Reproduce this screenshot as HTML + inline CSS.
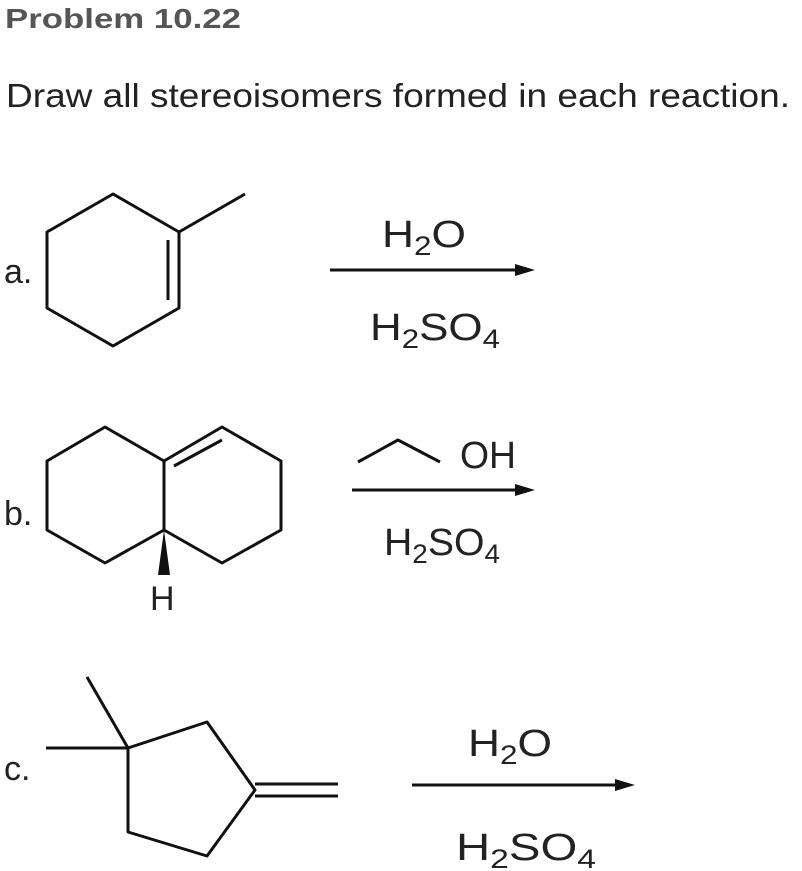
<!DOCTYPE html>
<html><head><style>
body{margin:0;background:#fff;}
svg{display:block;font-family:"Liberation Sans",sans-serif;}
</style></head><body>
<svg width="802" height="871" viewBox="0 0 802 871">
<text x="5" y="28" font-size="28" font-weight="bold" fill="#555" textLength="236" lengthAdjust="spacingAndGlyphs">Problem 10.22</text>
<text x="6" y="107" font-size="33" fill="#222" textLength="784" lengthAdjust="spacingAndGlyphs">Draw all stereoisomers formed in each reaction.</text>
<g stroke="#111" stroke-width="3" fill="none" stroke-linejoin="round">
<polygon points="113,194 179,232 179,308 113,346 47,308 47,232"/>
<line x1="179" y1="232" x2="245" y2="194"/>
<line x1="168" y1="240" x2="168" y2="300"/>
<polygon points="105,427 164,461 164,530 105,563 47,530 47,461"/>
<polyline points="164,461 222,427 281,461 281,530 222,563 164,530"/>
<line x1="174" y1="466" x2="222" y2="440"/>
<polygon points="128,748 207,722 255,790 207,856 128,832"/>
<line x1="128" y1="748" x2="87" y2="677"/>
<line x1="128" y1="748" x2="46" y2="748"/>
<line x1="255" y1="784" x2="338" y2="784"/>
<line x1="255" y1="796" x2="338" y2="796"/>
<polyline points="358,462 398,440 440,462"/>
<line x1="330" y1="270" x2="522" y2="270"/>
<line x1="352" y1="490" x2="522" y2="490"/>
<line x1="412" y1="785" x2="622" y2="785"/>
</g>
<polygon points="164,530 158,575 170,575" fill="#111"/>
<polygon points="535,270 515,264 515,276" fill="#111"/>
<polygon points="535,490 515,484 515,496" fill="#111"/>
<polygon points="635,785 615,779 615,791" fill="#111"/>
<g font-size="38" fill="#222">
<text x="4" y="283" font-size="34">a.</text>
<text x="4" y="525" font-size="34">b.</text>
<text x="4" y="780" font-size="34">c.</text>
<text x="150" y="610" font-size="34">H</text>
<text x="382" y="247" textLength="84" lengthAdjust="spacingAndGlyphs">H<tspan font-size="27" dy="8">2</tspan><tspan dy="-8">O</tspan></text>
<text x="370" y="340" textLength="130" lengthAdjust="spacingAndGlyphs">H<tspan font-size="27" dy="8">2</tspan><tspan dy="-8">SO</tspan><tspan font-size="27" dy="8">4</tspan></text>
<text x="460" y="468" textLength="56" lengthAdjust="spacingAndGlyphs">OH</text>
<text x="384" y="555" textLength="116" lengthAdjust="spacingAndGlyphs">H<tspan font-size="27" dy="8">2</tspan><tspan dy="-8">SO</tspan><tspan font-size="27" dy="8">4</tspan></text>
<text x="468" y="756" textLength="84" lengthAdjust="spacingAndGlyphs">H<tspan font-size="27" dy="8">2</tspan><tspan dy="-8">O</tspan></text>
<text x="456" y="860" textLength="140" lengthAdjust="spacingAndGlyphs">H<tspan font-size="27" dy="8">2</tspan><tspan dy="-8">SO</tspan><tspan font-size="27" dy="8">4</tspan></text>
</g>
</svg>
</body></html>
